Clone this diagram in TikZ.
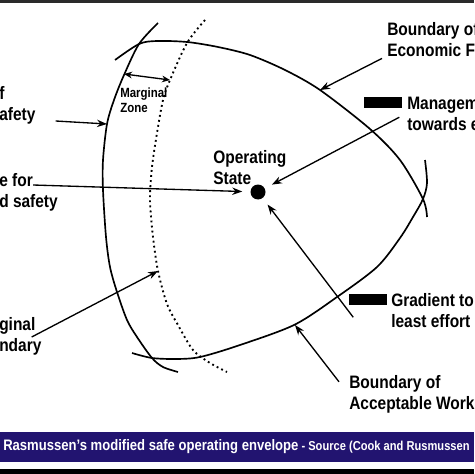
\documentclass[tikz,border=0pt]{standalone}
\usepackage{fontspec}
\setmainfont{Liberation Sans}[FakeStretch=0.86]
\usetikzlibrary{arrows.meta, positioning, calc}
\definecolor{capBlue}{HTML}{221470}
\definecolor{topDark}{HTML}{2A2A2A}

\begin{document}
\begin{tikzpicture}[x=0.75pt, y=-0.75pt,
    bound/.style={line width=1.25pt},
    margin/.style={line width=1.4pt, dash pattern=on 1.4pt off 2.4pt},
    arr/.style={line width=1pt, -{Stealth[length=7.5pt, width=5.5pt]}},
    lbl/.style={font=\fontsize{13.5}{15.8}\selectfont\bfseries, align=left,
                inner sep=0pt, anchor=west},
    bar/.style={rectangle, fill=black, minimum width=28.5pt, minimum height=8.25pt,
                inner sep=0pt},
    dot/.style={circle, fill=black, minimum size=11.25pt, inner sep=0pt},
  ]
    \useasboundingbox (0,0) rectangle (474,474);
    \clip (0,0) rectangle (474,474);
    \fill[topDark] (0,0) rectangle (474,3);

    % boundaries
    \draw[bound] plot[smooth] coordinates {(158,23) (139,44) (124,75) (114,100) (107,124)
      (103,160) (103,190) (106,237) (110,267) (117,292) (127,320) (137,337) (152,358)
      (163,367) (178,372)};
    \draw[bound] plot[smooth] coordinates {(115,60) (139,44) (157,41) (187,42) (218,47)
      (250,55) (285,70) (320,90) (370,129) (400,160) (423,199) (427,217)};
    \draw[bound] plot[smooth] coordinates {(132,353) (152,358) (177,359) (200,357)
      (237,346) (294,325) (337,297) (377,267) (400,238) (413,217) (423,199) (427,183)
      (425,160)};
    \draw[margin] plot[smooth] coordinates {(205,20) (187,43) (170,80) (163,100) (157,133)
      (152,167) (150,200) (153,237) (158,271) (167,304) (178,325) (193,350) (210,363)
      (227,372)};

    \coordinate (hSafety) at (107,124);
    \coordinate (hEcon) at (320,90);
    \coordinate (hWork) at (295,325);
    \coordinate (hMarg) at (158,271);
    \coordinate (zL) at (124,74);
    \coordinate (zR) at (170,80);

    % labels
    \node[lbl] (safety) at (-1,105) {f\\afety};
    \node[lbl] (control) at (-1,192) {e for\\d safety};
    \node[lbl] (margin) at (-1,336) {ginal\\ndary};
    \node[lbl] (econ) at (387,40) {Boundary of\\Economic F};
    \node[lbl] (mgmt) at (407,114) {Managem\\towards e};
    \node[lbl] (grad) at (391,311) {Gradient to\\least effort};
    \node[lbl] (work) at (349,394) {Boundary of\\Acceptable Work};
    \node[lbl] (state) at (213,168) {Operating\\State};
    \node[lbl, font=\fontsize{10}{11}\selectfont\bfseries] (zone) at (120,100) {Marginal\\Zone};

    \node[bar] (b1) at (383,102.5) {};
    \node[bar] (b2) at (367.5,299.5) {};
    \node[dot] (op) at (258,192) {};

    % arrows
    \draw[arr] ($(safety.east)+(20,16)$) -- (hSafety);
    \draw[arr, shorten >=6pt] ($(control.east)+(-25,-7)$) -- (op);
    \draw[arr] ($(margin.east)+(-10,1)$) -- (hMarg);
    \draw[arr] ($(econ.south west)+(-5,1)$) -- (hEcon);
    \draw[arr, shorten >=6pt] ($(b1.south east)+(-3,9)$) -- (op);
    \draw[arr, shorten >=6pt] ($(b2.south west)+(5,12)$) -- (op);
    \draw[arr] ($(work.north west)+(-10,7)$) -- (hWork);
    \draw[line width=1pt, {Stealth[length=6pt, width=5pt]}-{Stealth[length=6pt, width=5pt]}] (zL) -- (zR);

    % caption
    \fill[capBlue] (0,432) rectangle (474,462);
    \node[anchor=west, text=white, inner sep=0pt, font=\bfseries] (cap) at (3,447)
      {{\fontsize{11.4}{13}\selectfont Rasmussen’s modified safe operating envelope}%
       {\fontsize{9.7}{12}\selectfont\ - Source (Cook and Rusmussen}};
    \fill[black] (0,469) rectangle (474,474);
\end{tikzpicture}
\end{document}
